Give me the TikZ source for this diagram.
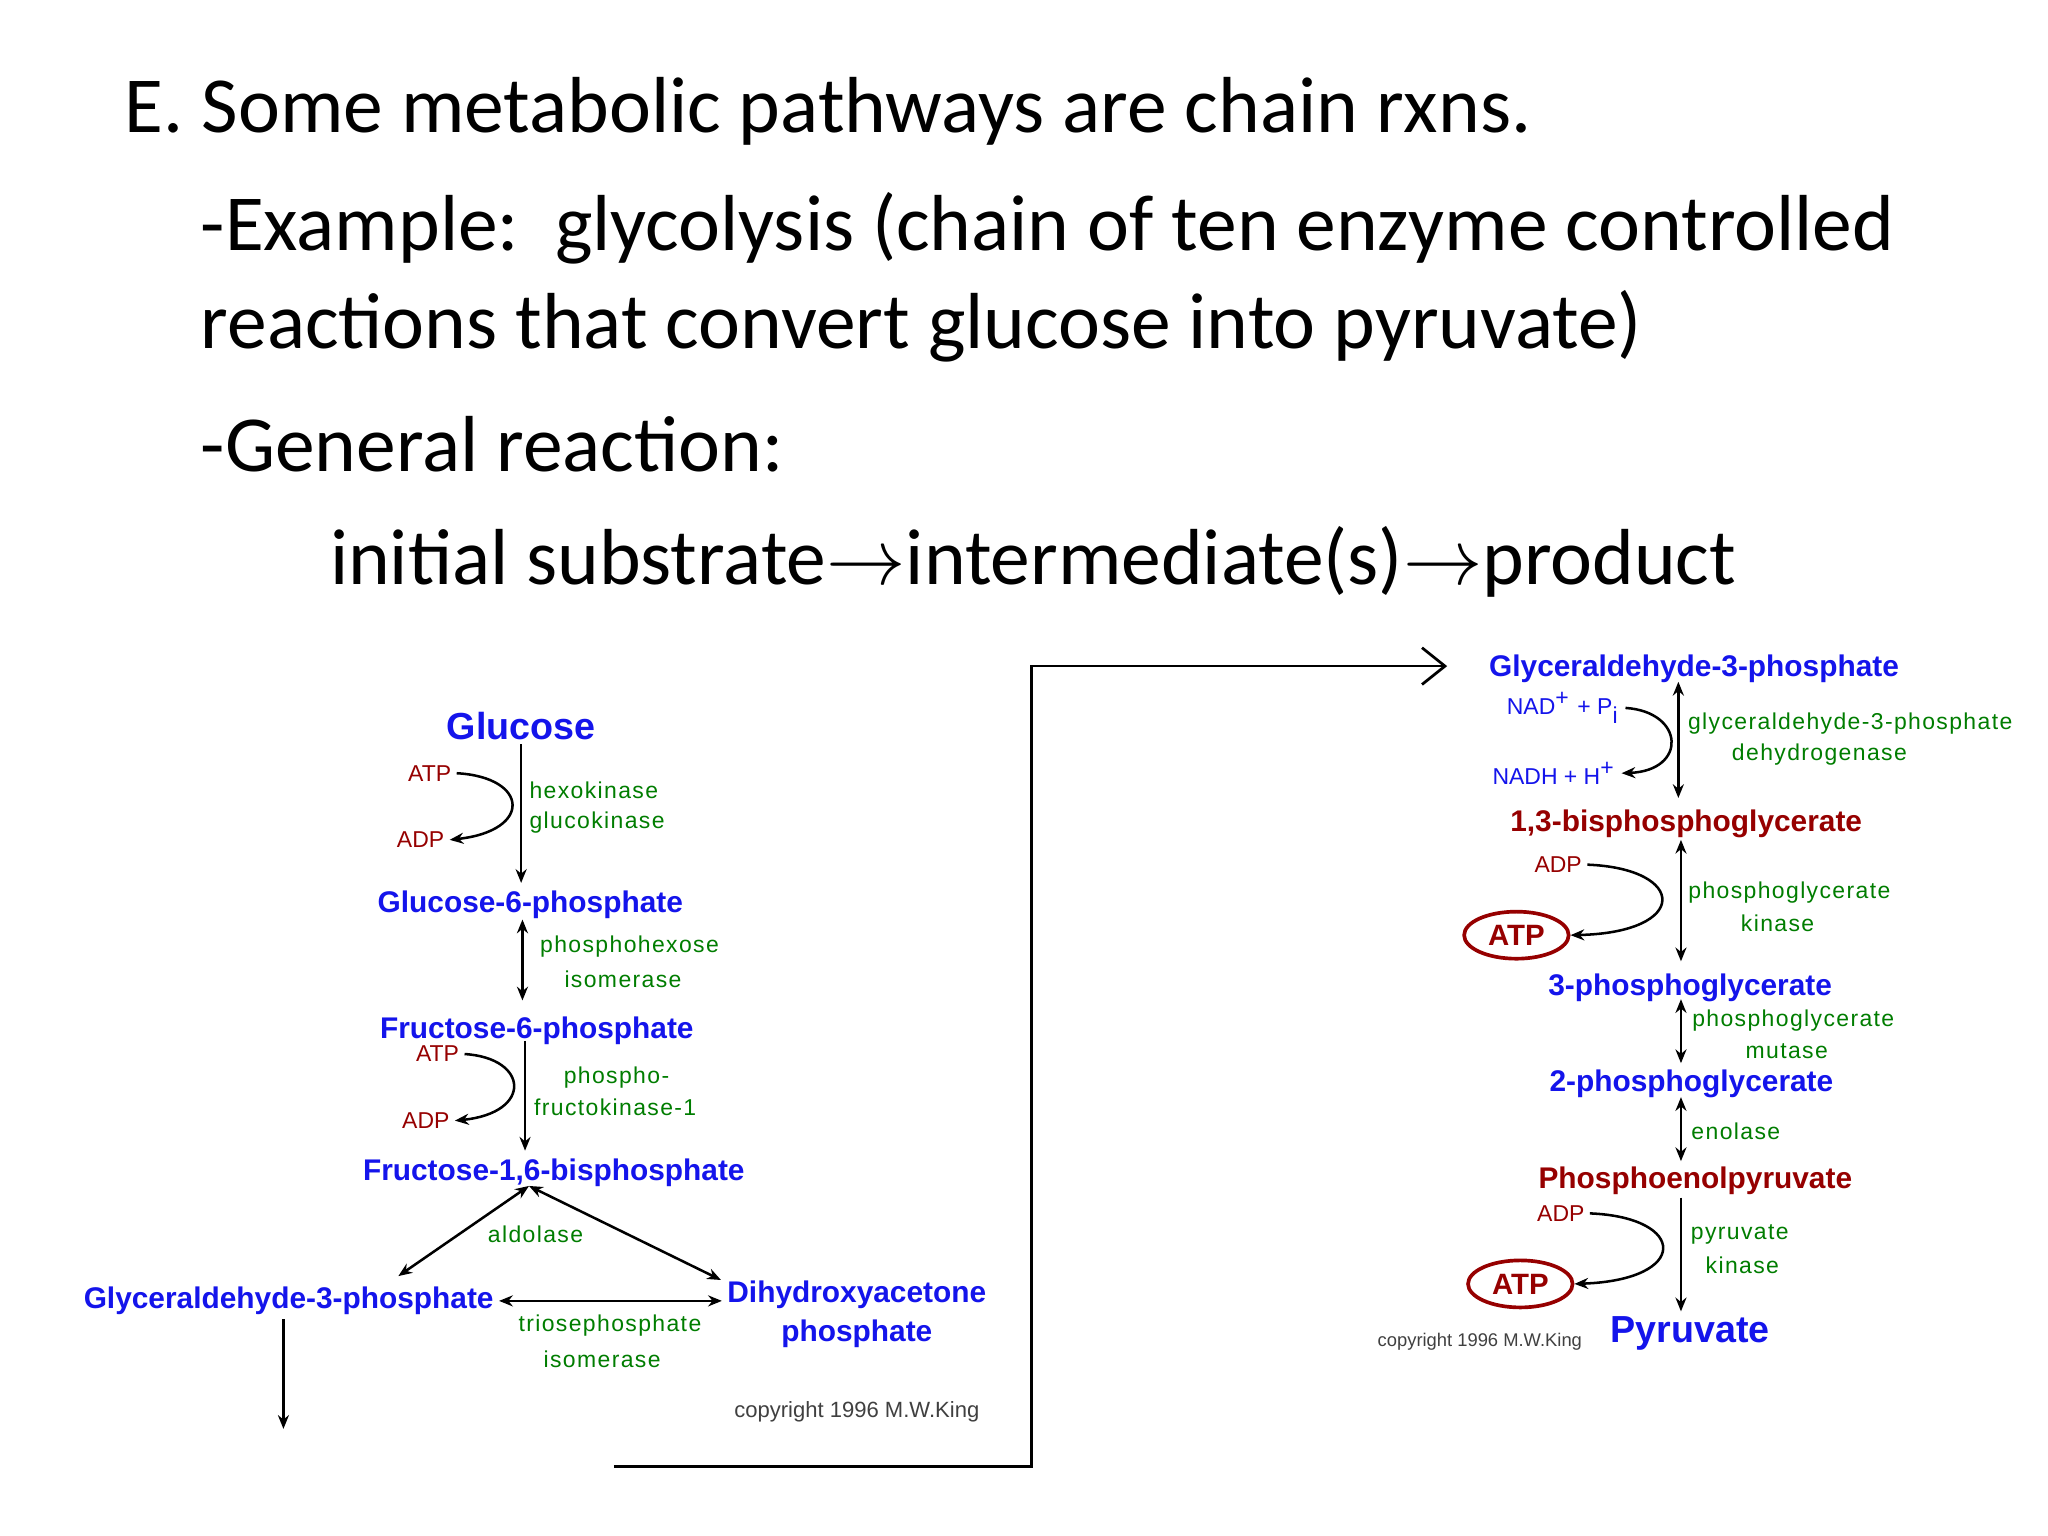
\documentclass[tikz,border=0pt]{standalone}
\usepackage{fontspec}
\setmainfont{Carlito}
\newfontfamily\arl{Liberation Sans}
\newfontfamily\arlw{Liberation Sans}[LetterSpace=6]
\usetikzlibrary{arrows.meta,shapes.geometric}
\definecolor{mblue}{RGB}{20,20,235}
\definecolor{mred}{RGB}{150,0,0}
\definecolor{mgreen}{RGB}{0,125,0}
\begin{document}
\begin{tikzpicture}[x=0.01cm,y=-0.01cm,
 title/.style={anchor=west,font=\fontsize{17.3}{20}\selectfont,inner sep=0},
 met/.style={text=mblue,font=\arl\bfseries\fontsize{6.5}{7.5}\selectfont,inner sep=1pt},
 big/.style={text=mblue,font=\arl\bfseries\fontsize{8.2}{9}\selectfont,inner sep=1pt},
 redm/.style={text=mred,font=\arl\bfseries\fontsize{6.5}{7.5}\selectfont,inner sep=1pt},
 co/.style={text=mred,font=\arl\fontsize{5}{6}\selectfont,inner sep=1pt},
 enz/.style={text=mgreen,font=\arlw\fontsize{5}{6}\selectfont,inner sep=0.5pt},
 cpy/.style={text=black!75,font=\arl\fontsize{4.8}{6}\selectfont},
 atp/.style={draw=mred,thick,ellipse,text=mred,font=\arl\bfseries\fontsize{6.4}{7}\selectfont,minimum width=0.8cm,minimum height=0.36cm,inner sep=0},
 ar/.style={line width=0.55pt,-{Stealth[length=3pt,width=2.4pt]}},
 dar/.style={line width=0.55pt,{Stealth[length=3pt,width=2.4pt]}-{Stealth[length=3pt,width=2.4pt]}}]
\useasboundingbox[fill=white] (0,0) rectangle (1568,1176);
\node[title] (t1) at (95,85) {E. Some metabolic pathways are chain rxns.};
\node[title] (t2) at (153,175) {-Example:\ \ glycolysis (chain of ten enzyme controlled};
\node[title] (t3) at (153,250) {reactions that convert glucose into pyruvate)};
\node[title] (t4) at (153,340) {-General reaction:};
\node[title] (t5) at (252,430) {initial substrate$\rightarrow$intermediate(s)$\rightarrow$product};
% left
\node[big] (glc) at (399,556) {Glucose};
\node[co] (atp1) at (329,592) {ATP};
\node[co] (adp1) at (322,643) {ADP};
\node[enz,anchor=west] (e1a) at (403,605) {hexokinase};
\node[enz,anchor=west] (e1b) at (403,630) {glucokinase};
\node[met] (g6p) at (406,693) {Glucose-6-phosphate};
\coordinate (v1a) at (399,570); \coordinate (v1b) at (399,676);
\draw[ar] (v1a) -- (v1b);
\draw[ar] (atp1.east) .. controls (405,595) and (408,636) .. (adp1.east);
\node[enz] (e2a) at (482,725) {phosphohexose};
\node[enz] (e2b) at (477,750) {isomerase};
\node[met] (f6p) at (411,789) {Fructose-6-phosphate};
\coordinate (v2a) at (400,704); \coordinate (v2b) at (400,766);
\draw[dar] (v2a) -- (v2b);
\node[co] (atp2) at (335,807) {ATP};
\node[co] (adp2) at (326,858) {ADP};
\node[enz] (e3a) at (472,825) {phospho-};
\node[enz] (e3b) at (471,848) {fructokinase-1};
\node[met] (fbp) at (424,898) {Fructose-1,6-bisphosphate};
\coordinate (v3a) at (402,797); \coordinate (v3b) at (402,881);
\draw[ar] (v3a) -- (v3b);
\draw[ar] (atp2.east) .. controls (405,810) and (408,852) .. (adp2.east);
\coordinate (top) at (405,908);
\node[met] (gap) at (221,996) {Glyceraldehyde-3-phosphate};
\node[met,align=center] (dhap) at (656,1006) {Dihydroxyacetone\\[1pt]phosphate};
\coordinate (gd) at (305,977); \coordinate (dd) at (552,980);
\draw[dar] (top) -- (gd);
\draw[dar] (top) -- (dd);
\node[enz] (ald) at (410,945) {aldolase};
\draw[dar] (gap.east) -- (dhap.west|-gap.east);
\node[enz] (e4a) at (467,1015) {triosephosphate};
\node[enz] (e4b) at (461,1041) {isomerase};
\coordinate (ga) at (217,1010); \coordinate (gb) at (217,1094);
\draw[ar] (ga) -- (gb);
\node[cpy] (c1) at (656,1081) {copyright 1996 M.W.King};
\coordinate (l1) at (470,1123); \coordinate (l2) at (790,1123);
\coordinate (l3) at (790,510);
\node[met] (gap2) at (1297,512) {Glyceraldehyde-3-phosphate};
\draw[line width=0.6pt,-{Straight Barb[length=5pt,width=8pt]}] (l1) -- (l2) -- (l3) -- (1108,510);
% right
\node[co,text=mblue] (nad) at (1197,542) {NAD\textsuperscript{+} + P\textsubscript{i}};
\node[co,text=mblue] (nadh) at (1190,592) {NADH + H\textsuperscript{+}};
\coordinate (r1a) at (1285,522); \coordinate (r1b) at (1285,611);
\draw[dar] (r1a) -- (r1b);
\draw[ar] (nad.east) .. controls (1290,545) and (1292,590) .. (nadh.east);
\node[enz,anchor=west] (e5a) at (1290,554) {glyceraldehyde-3-phosphate};
\node[enz] (e5b) at (1393,578) {dehydrogenase};
\node[redm] (bpg) at (1291,631) {1,3-bisphosphoglycerate};
\node[co] (adp3) at (1193,662) {ADP};
\node[atp] (atp3) at (1161,716) {ATP};
\coordinate (r2a) at (1287,643); \coordinate (r2b) at (1287,736);
\draw[dar] (r2a) -- (r2b);
\draw[ar] (adp3.east) .. controls (1292,665) and (1294,714) .. (atp3.east);
\node[enz] (e6a) at (1370,683) {phosphoglycerate};
\node[enz] (e6b) at (1361,707) {kinase};
\node[met] (pg3) at (1294,756) {3-phosphoglycerate};
\coordinate (r3a) at (1287,765); \coordinate (r3b) at (1287,814);
\draw[dar] (r3a) -- (r3b);
\node[enz] (e7a) at (1373,781) {phosphoglycerate};
\node[enz] (e7b) at (1368,805) {mutase};
\node[met] (pg2) at (1295,830) {2-phosphoglycerate};
\coordinate (r4a) at (1287,840); \coordinate (r4b) at (1287,889);
\draw[dar] (r4a) -- (r4b);
\node[enz] (e8) at (1329,866) {enolase};
\node[redm] (pep) at (1298,904) {Phosphoenolpyruvate};
\node[co] (adp4) at (1195,929) {ADP};
\node[atp] (atp4) at (1164,983) {ATP};
\coordinate (r5a) at (1287,917); \coordinate (r5b) at (1287,1004);
\draw[ar] (r5a) -- (r5b);
\draw[ar] (adp4.east) .. controls (1292,932) and (1294,980) .. (atp4.east);
\node[enz] (e9a) at (1332,945) {pyruvate};
\node[enz] (e9b) at (1334,969) {kinase};
\node[big] (pyr) at (1294,1021) {Pyruvate};
\node[cpy,font=\arl\fontsize{4}{5}\selectfont] (c2) at (1133,1027) {copyright 1996 M.W.King};
\end{tikzpicture}
\end{document}
